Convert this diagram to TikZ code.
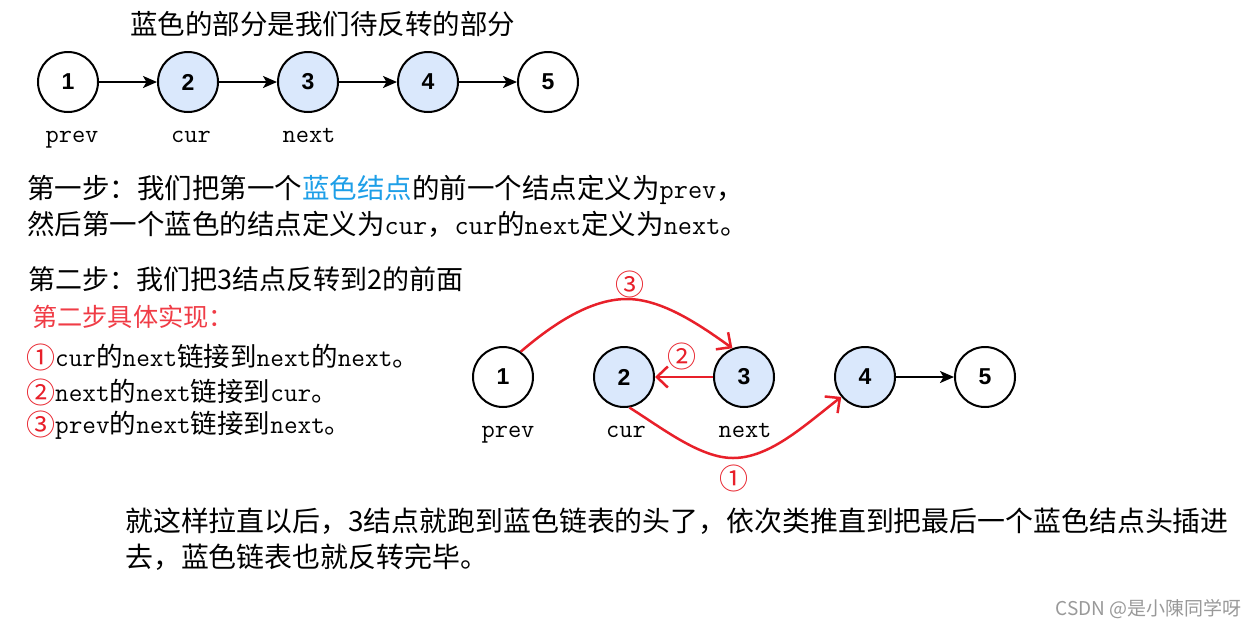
\documentclass[tikz,border=0pt]{standalone}
\usepackage{fontspec}
\usetikzlibrary{arrows.meta}
\newfontfamily\cjk{Noto Sans CJK SC}
\newfontfamily\numfont{Liberation Sans}
\definecolor{nodeblue}{HTML}{DAE8FC}
\definecolor{txtblue}{HTML}{1E9FE8}
\definecolor{txtred}{HTML}{F03C46}
\definecolor{arrred}{HTML}{E8202A}
\definecolor{wmgray}{HTML}{999999}
\tikzset{
  nd/.style={circle, draw=black, line width=2pt, minimum size=60pt, inner sep=0pt, fill=white,
    font=\numfont\fontsize{23}{23}\selectfont\bfseries},
  bl/.style={nd, fill=nodeblue},
  arr/.style={line width=2pt, -{Stealth[length=14pt,width=12pt,inset=3.5pt]}},
  rarr/.style={draw=arrred, line width=2.5pt, -{Straight Barb[length=11pt,width=21pt]}},
  lbl/.style={anchor=base, inner sep=0pt, font=\ttfamily\fontsize{25.7}{26}\selectfont},
  txt/.style={anchor=base west, inner sep=0pt, font=\cjk\fontsize{27.5}{30}\selectfont},
  stxt/.style={anchor=base west, inner sep=0pt, font=\cjk\fontsize{26.5}{30}\selectfont},
  btxt/.style={anchor=base west, inner sep=0pt, font=\cjk\fontsize{27.9}{30}\selectfont},
  cnum/.style={inner sep=0pt, text=arrred, font=\cjk\fontsize{29}{29}\selectfont},
}
\newcommand{\cn}[1]{\textcolor{arrred}{\fontsize{29}{29}\selectfont\raisebox{-2pt}{#1}}}
\begin{document}
\begin{tikzpicture}[x=1pt,y=-1pt]
\useasboundingbox (0,0) rectangle (1260,630);
\fill[white] (0,0) rectangle (1260,630);

% ---- top diagram
\node[txt] (title) at (130,34) {蓝色的部分是我们待反转的部分};
\node[nd] (a1) at (68,82) {1};
\node[bl] (a2) at (188,82) {2};
\node[bl] (a3) at (308,82) {3};
\node[bl] (a4) at (428,82) {4};
\node[nd] (a5) at (548,82) {5};
\draw[arr] (a1) -- (a2);
\draw[arr] (a2) -- (a3);
\draw[arr] (a3) -- (a4);
\draw[arr] (a4) -- (a5);
\node[lbl] (lp1) at (72,142) {prev};
\node[lbl] (lc1) at (191,142) {cur};
\node[lbl] (ln1) at (309,142) {next};

% ---- step one
\node[txt] (s1a) at (27,198) {第一步：我们把第一个\textcolor{txtblue}{蓝色结点}的前一个结点定义为\texttt{prev}，};
\node[txt] (s1b) at (27,234) {然后第一个蓝色的结点定义为\texttt{cur}，\texttt{cur}的\texttt{next}定义为\texttt{next}。};

% ---- step two
\node[anchor=base west, inner sep=0pt, font=\cjk\fontsize{27}{30}\selectfont] (s2) at (28,289) {第二步：我们把3结点反转到2的前面};
\node[anchor=base west, inner sep=0pt, text=txtred, font=\cjk\fontsize{25.2}{30}\selectfont] (s2t) at (32,326) {第二步具体实现：};
\node[stxt] (r1) at (26,366) {\cn{①}\texttt{cur}的\texttt{next}链接到\texttt{next}的\texttt{next}。};
\node[stxt] (r2) at (26,401) {\cn{②}\texttt{next}的\texttt{next}链接到\texttt{cur}。};
\node[stxt] (r3) at (26,433) {\cn{③}\texttt{prev}的\texttt{next}链接到\texttt{next}。};

% ---- bottom diagram
\node[nd] (b1) at (503,377) {1};
\node[bl] (b2) at (624,377) {2};
\node[bl] (b3) at (744,377) {3};
\node[bl] (b4) at (865,377) {4};
\node[nd] (b5) at (985,377) {5};
\draw[arr] (b4) -- (b5);
\node[lbl] (lp2) at (508,437) {prev};
\node[lbl] (lc2) at (626,437) {cur};
\node[lbl] (ln2) at (745,437) {next};

\draw[rarr] (b1.55) .. controls (560,318) and (595,299) .. (627,299)
  .. controls (662,299) and (700,325) .. (b3.112);
\draw[rarr] (b3.west) -- (b2.east);
\draw[rarr] (b2.-80) .. controls (662,428) and (700,458) .. (733,458)
  .. controls (770,458) and (805,425) .. (b4.220);
\node[cnum] (c3) at (630,284) {③};
\node[cnum] (c2) at (682,356) {②};
\node[cnum] (c1) at (734,478) {①};

% ---- conclusion
\node[btxt] (e1) at (125,531) {就这样拉直以后，3结点就跑到蓝色链表的头了，依次类推直到把最后一个蓝色结点头插进};
\node[btxt] (e2) at (125,567) {去，蓝色链表也就反转完毕。};

\node[anchor=east, inner sep=0pt, text=wmgray, font=\cjk\fontsize{19}{20}\selectfont] (wm) at (1242,609) {CSDN @是小陳同学呀};
\end{tikzpicture}
\end{document}
